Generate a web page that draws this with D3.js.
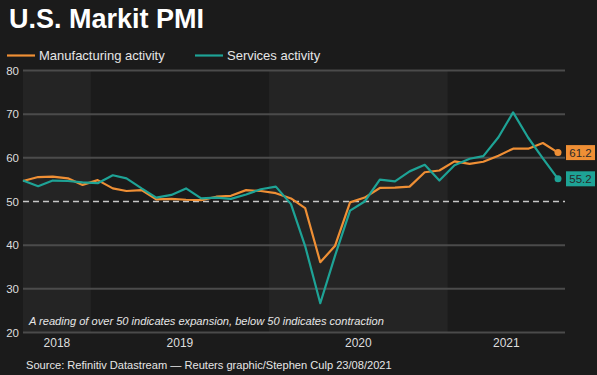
<!DOCTYPE html>
<html>
<head>
<meta charset="utf-8">
<script src="https://cdn.jsdelivr.net/npm/d3@7"></script>
<style>
  html, body { margin: 0; padding: 0; background: #1b1b1b; }
  svg { display: block; font-family: "Liberation Sans", Arial, sans-serif; }
</style>
</head>
<body>
<div id="chart"></div>
<script>
// Monthly readings, Aug 2018 - Aug 2021
const months = [
  "2018-08", "2018-09", "2018-10", "2018-11", "2018-12",
  "2019-01", "2019-02", "2019-03", "2019-04", "2019-05", "2019-06",
  "2019-07", "2019-08", "2019-09", "2019-10", "2019-11", "2019-12",
  "2020-01", "2020-02", "2020-03", "2020-04", "2020-05", "2020-06",
  "2020-07", "2020-08", "2020-09", "2020-10", "2020-11", "2020-12",
  "2021-01", "2021-02", "2021-03", "2021-04", "2021-05", "2021-06",
  "2021-07", "2021-08"
];
const manufacturing = [
  54.7, 55.6, 55.7, 55.3, 53.8,
  54.9, 53.0, 52.4, 52.6, 50.5, 50.6, 50.4, 50.3, 51.1, 51.3, 52.6, 52.4,
  51.9, 50.7, 48.5, 36.1, 39.8, 49.8, 50.9, 53.1, 53.2, 53.4, 56.7, 57.1,
  59.2, 58.6, 59.1, 60.5, 62.1, 62.1, 63.4, 61.2
];
const services = [
  54.8, 53.5, 54.8, 54.7, 54.4,
  54.2, 56.0, 55.3, 53.0, 50.9, 51.5, 53.0, 50.7, 50.9, 50.6, 51.6, 52.8,
  53.4, 49.4, 39.8, 26.7, 37.5, 47.9, 50.0, 55.0, 54.6, 56.9, 58.4, 54.8,
  58.3, 59.8, 60.4, 64.7, 70.4, 64.6, 59.9, 55.2
];
const yTicks = [20, 30, 40, 50, 60, 70, 80];
const years = [2018, 2019, 2020, 2021];

const W = 597, H = 375;
const plot = { left: 23, right: 565, top: 70.5, bottom: 332.5 };
const orange = "#ef8f35";
const teal = "#1ea396";

const svg = d3.select("#chart").append("svg")
    .attr("width", W)
    .attr("height", H);

svg.append("rect").attr("width", W).attr("height", H).attr("fill", "#1b1b1b");

// points sit mid-month
const parseMonth = d3.timeParse("%Y-%m");
const dates = months.map(m => d3.timeDay.offset(parseMonth(m), 14));

const x = d3.scaleTime()
    .domain([dates[0], dates[dates.length - 1]])
    .range([plot.left, 558]);

const y = d3.scaleLinear()
    .domain([20, 80])
    .range([plot.bottom, plot.top]);

// alternating year bands
years.forEach((yr, i) => {
  const x0 = Math.max(plot.left, x(new Date(yr, 0, 1)));
  const x1 = Math.min(plot.right, x(new Date(yr + 1, 0, 1)));
  if (i % 2 === 0) {
    svg.append("rect")
        .attr("x", x0)
        .attr("y", plot.top)
        .attr("width", x1 - x0)
        .attr("height", plot.bottom - plot.top)
        .attr("fill", "#242424");
  }
  svg.append("text")
      .attr("x", (x0 + x1) / 2)
      .attr("y", 347)
      .attr("text-anchor", "middle")
      .attr("fill", "#dedede")
      .style("font-size", "12px")
      .text(yr);
});

// gridlines
svg.append("g")
  .selectAll("line")
  .data(yTicks.filter(d => d !== 50))
  .join("line")
    .attr("x1", plot.left)
    .attr("x2", plot.right)
    .attr("y1", d => y(d))
    .attr("y2", d => y(d))
    .attr("stroke", "#4b4b4b")
    .attr("stroke-width", 2);

svg.append("line")
    .attr("x1", plot.left)
    .attr("x2", plot.right)
    .attr("y1", y(50))
    .attr("y2", y(50))
    .attr("stroke", "#c8c8c8")
    .attr("stroke-width", 1.6)
    .attr("stroke-dasharray", "6,4");

// y labels
svg.append("g")
  .selectAll("text")
  .data(yTicks)
  .join("text")
    .attr("x", 19)
    .attr("y", d => y(d))
    .attr("dy", "0.35em")
    .attr("text-anchor", "end")
    .attr("fill", "#dedede")
    .style("font-size", "11.5px")
    .text(d => d);

// annotation
svg.append("text")
    .attr("x", 29)
    .attr("y", 325)
    .attr("fill", "#e6e6e6")
    .style("font-size", "11.1px")
    .style("font-style", "italic")
    .text("A reading of over 50 indicates expansion, below 50 indicates contraction");

const line = d3.line()
    .x((d, i) => x(dates[i]))
    .y(d => y(d));

const series = [
  { name: "Manufacturing activity", values: manufacturing, color: orange },
  { name: "Services activity", values: services, color: teal }
];

series.forEach(s => {
  svg.append("path")
      .datum(s.values)
      .attr("fill", "none")
      .attr("stroke", s.color)
      .attr("stroke-width", 2.2)
      .attr("stroke-linejoin", "round")
      .attr("d", line);

  const last = s.values[s.values.length - 1];
  const lx = x(dates[dates.length - 1]);
  svg.append("circle")
      .attr("cx", lx)
      .attr("cy", y(last))
      .attr("r", 3.5)
      .attr("fill", s.color);

  svg.append("rect")
      .attr("x", 566)
      .attr("y", y(last) - 7.5)
      .attr("width", 29)
      .attr("height", 15)
      .attr("fill", s.color);

  svg.append("text")
      .attr("x", 580.5)
      .attr("y", y(last))
      .attr("dy", "0.36em")
      .attr("text-anchor", "middle")
      .attr("fill", "#2a2a2a")
      .style("font-size", "11.5px")
      .text(last.toFixed(1));
});

// title
svg.append("text")
    .attr("x", 9)
    .attr("y", 28)
    .attr("fill", "#ffffff")
    .style("font-size", "27px")
    .style("font-weight", "bold")
    .text("U.S. Markit PMI");

// legend
const legendX = [7, 195];
series.forEach((s, i) => {
  svg.append("line")
      .attr("x1", legendX[i])
      .attr("x2", legendX[i] + 28)
      .attr("y1", 55.5)
      .attr("y2", 55.5)
      .attr("stroke", s.color)
      .attr("stroke-width", 2.2);
  svg.append("text")
      .attr("x", legendX[i] + 32)
      .attr("y", 60)
      .attr("fill", "#e6e6e6")
      .style("font-size", "13px")
      .text(s.name);
});

// source
svg.append("text")
    .attr("x", 26)
    .attr("y", 369)
    .attr("fill", "#e6e6e6")
    .style("font-size", "11.1px")
    .text("Source: Refinitiv Datastream \u2014 Reuters graphic/Stephen Culp 23/08/2021");
</script>
</body>
</html>
